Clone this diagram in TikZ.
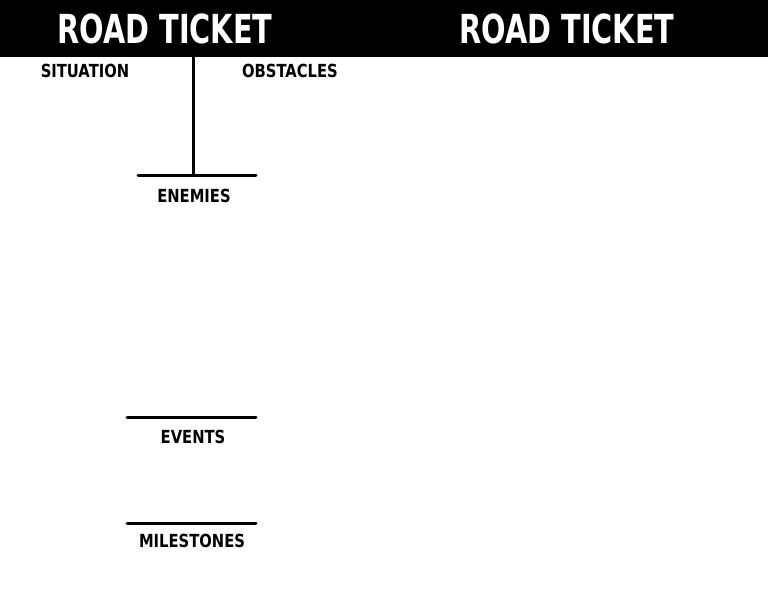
\documentclass[tikz,border=0pt]{standalone}
\usepackage{fontspec}
\setmainfont{DejaVu Sans}
\usepackage{graphicx}
\begin{document}
\begin{tikzpicture}[x=1pt,y=-1pt,
 title/.style={text=white,font=\bfseries\fontsize{40}{40}\selectfont,xscale=0.72},
 lbl/.style={font=\bfseries\fontsize{18}{18}\selectfont,xscale=0.82,inner sep=0pt},
 rule/.style={line width=3pt,line cap=round}]
\useasboundingbox (0,0) rectangle (768,594);
\fill[black] (0,0) rectangle (768,57);
\node[title] (t1) at (165,29) {ROAD TICKET};
\node[title] (t2) at (567,29) {ROAD TICKET};
\node[lbl] (sit) at (85,71) {SITUATION};
\node[lbl] (obs) at (290,71) {OBSTACLES};
\coordinate (vtop) at (193,57);
\coordinate (vbot) at (193,175);
\coordinate (l1a) at (138,175); \coordinate (l1b) at (256,175);
\coordinate (l2a) at (127,417); \coordinate (l2b) at (256,417);
\coordinate (l3a) at (127,523); \coordinate (l3b) at (256,523);
\draw[rule] (vtop) -- (vbot);
\draw[rule] (l1a) -- (l1b);
\draw[rule] (l2a) -- (l2b);
\draw[rule] (l3a) -- (l3b);
\node[lbl] (en) at (194,196) {ENEMIES};
\node[lbl] (ev) at (193,437) {EVENTS};
\node[lbl] (mi) at (192,541) {MILESTONES};
\end{tikzpicture}
\end{document}
